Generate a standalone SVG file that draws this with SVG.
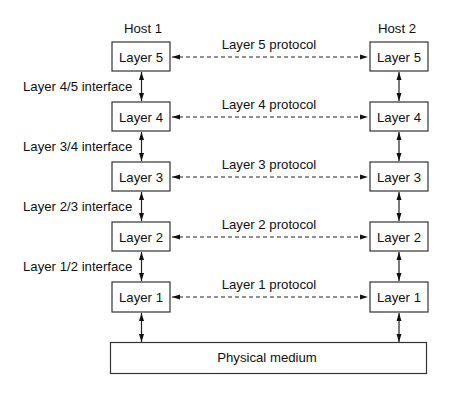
<svg xmlns="http://www.w3.org/2000/svg" width="474" height="405" viewBox="0 0 474 405">
<style>
.box{fill:#fff;stroke:#333;stroke-width:1.2}
.t{font-family:"Liberation Sans",Arial,sans-serif;font-size:13.2px;fill:#111}
.c{text-anchor:middle}
.d{stroke:#222;stroke-width:1;stroke-dasharray:4,3;fill:none}
.v{stroke:#222;stroke-width:1.2;fill:none}
</style>
<defs>
<marker id="ah" viewBox="0 0 8 6" refX="8" refY="3" markerWidth="8" markerHeight="6" markerUnits="userSpaceOnUse" orient="auto-start-reverse">
<path d="M0,0.5 L8,3 L0,5.5 Z" fill="#111"/>
</marker>
</defs>
<rect width="474" height="405" fill="#fff"/>
<text class="t c" x="143" y="33">Host 1</text>
<text class="t c" x="397" y="33">Host 2</text>
<g id="h1l5"><rect class="box" x="112" y="42" width="58" height="29"/><text class="t c" x="141" y="61.5">Layer 5</text></g>
<g id="h1l4"><rect class="box" x="112" y="102" width="58" height="29"/><text class="t c" x="141" y="121.5">Layer 4</text></g>
<g id="h1l3"><rect class="box" x="112" y="162" width="58" height="29"/><text class="t c" x="141" y="181.5">Layer 3</text></g>
<g id="h1l2"><rect class="box" x="112" y="222" width="58" height="29"/><text class="t c" x="141" y="241.5">Layer 2</text></g>
<g id="h1l1"><rect class="box" x="112" y="282" width="58" height="30"/><text class="t c" x="141" y="301.5">Layer 1</text></g>
<g id="h2l5"><rect class="box" x="370" y="42" width="58" height="29"/><text class="t c" x="399" y="61.5">Layer 5</text></g>
<g id="h2l4"><rect class="box" x="370" y="102" width="58" height="29"/><text class="t c" x="399" y="121.5">Layer 4</text></g>
<g id="h2l3"><rect class="box" x="370" y="162" width="58" height="29"/><text class="t c" x="399" y="181.5">Layer 3</text></g>
<g id="h2l2"><rect class="box" x="370" y="222" width="58" height="29"/><text class="t c" x="399" y="241.5">Layer 2</text></g>
<g id="h2l1"><rect class="box" x="370" y="282" width="58" height="30"/><text class="t c" x="399" y="301.5">Layer 1</text></g>
<g id="phys"><rect class="box" x="110.5" y="342.5" width="316" height="31"/><text class="t c" x="267" y="362">Physical medium</text></g>
<g id="connectors">
<line class="d" x1="172" y1="57" x2="368" y2="57" marker-start="url(#ah)" marker-end="url(#ah)"/>
<line class="d" x1="172" y1="117" x2="368" y2="117" marker-start="url(#ah)" marker-end="url(#ah)"/>
<line class="d" x1="172" y1="177" x2="368" y2="177" marker-start="url(#ah)" marker-end="url(#ah)"/>
<line class="d" x1="172" y1="237" x2="368" y2="237" marker-start="url(#ah)" marker-end="url(#ah)"/>
<line class="d" x1="172" y1="297" x2="368" y2="297" marker-start="url(#ah)" marker-end="url(#ah)"/>
<line class="v" x1="141.5" y1="72" x2="141.5" y2="101" marker-start="url(#ah)" marker-end="url(#ah)"/>
<line class="v" x1="141.5" y1="132" x2="141.5" y2="161" marker-start="url(#ah)" marker-end="url(#ah)"/>
<line class="v" x1="141.5" y1="192" x2="141.5" y2="221" marker-start="url(#ah)" marker-end="url(#ah)"/>
<line class="v" x1="141.5" y1="252" x2="141.5" y2="281" marker-start="url(#ah)" marker-end="url(#ah)"/>
<line class="v" x1="141.5" y1="313" x2="141.5" y2="342" marker-start="url(#ah)" marker-end="url(#ah)"/>
<line class="v" x1="399" y1="72" x2="399" y2="101" marker-start="url(#ah)" marker-end="url(#ah)"/>
<line class="v" x1="399" y1="132" x2="399" y2="161" marker-start="url(#ah)" marker-end="url(#ah)"/>
<line class="v" x1="399" y1="192" x2="399" y2="221" marker-start="url(#ah)" marker-end="url(#ah)"/>
<line class="v" x1="399" y1="252" x2="399" y2="281" marker-start="url(#ah)" marker-end="url(#ah)"/>
<line class="v" x1="399" y1="313" x2="399" y2="342" marker-start="url(#ah)" marker-end="url(#ah)"/>
</g>
<text class="t c" x="269" y="49">Layer 5 protocol</text>
<text class="t c" x="269" y="109">Layer 4 protocol</text>
<text class="t c" x="269" y="169">Layer 3 protocol</text>
<text class="t c" x="269" y="229">Layer 2 protocol</text>
<text class="t c" x="269" y="289">Layer 1 protocol</text>
<text class="t" x="23" y="91">Layer 4/5 interface</text>
<text class="t" x="23" y="151">Layer 3/4 interface</text>
<text class="t" x="23" y="211">Layer 2/3 interface</text>
<text class="t" x="23" y="271">Layer 1/2 interface</text>
</svg>
